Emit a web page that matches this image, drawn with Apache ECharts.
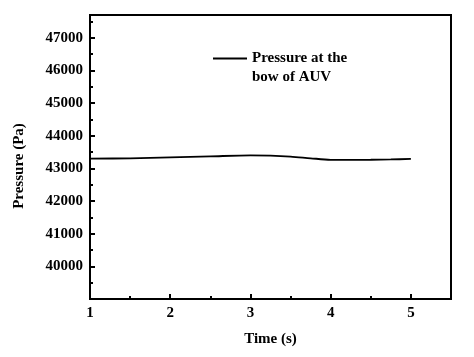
<!DOCTYPE html>
<html>
<head>
<meta charset="utf-8">
<script src="https://cdn.jsdelivr.net/npm/echarts@6/dist/echarts.min.js"></script>
<style>html,body{margin:0;padding:0;background:#fff;}#c{width:474px;height:357px;}</style>
</head>
<body>
<div id="c"></div>
<script>
const times = [1, 1.5, 2, 2.5, 3, 3.25, 3.5, 3.75, 4, 4.25, 4.5, 4.75, 5];
const pressure = [43300, 43310, 43340, 43370, 43400, 43390, 43360, 43310, 43265, 43260, 43265, 43275, 43290];
const seriesName = 'Pressure at the\nbow of AUV';
const xTitle = 'Time (s)';
const yTitle = 'Pressure (Pa)';

const font = 'Liberation Serif';
const chart = echarts.init(document.getElementById('c'), null, {renderer: 'canvas'});
const xMin = 1, xMax = 5.5, yMin = 39000, yMax = 47700;
chart.setOption({
  animation: false,
  backgroundColor: '#fff',
  grid: {left: 90, right: 23, top: 15, bottom: 58, show: true, borderColor: '#000', borderWidth: 2, backgroundColor: 'transparent'},
  legend: {
    left: 213, top: 30, padding: 0,
    icon: 'rect', itemWidth: 34, itemHeight: 2, itemGap: 4,
    data: [{name: seriesName, itemStyle: {color: '#000'}}],
    formatter: name => '\n' + name,
    textStyle: {fontFamily: font, fontWeight: 'bold', fontSize: 15, color: '#000', lineHeight: 19}
  },
  xAxis: [
    {type: 'value', min: xMin, max: xMax, interval: 1,
     name: xTitle, nameLocation: 'middle', nameGap: 33,
     nameTextStyle: {fontFamily: font, fontWeight: 'bold', fontSize: 15, color: '#000'},
     axisLine: {lineStyle: {color: '#000', width: 2}},
     axisTick: {inside: true, length: 5, lineStyle: {color: '#000', width: 2}},
     axisLabel: {fontFamily: font, fontWeight: 'bold', fontSize: 15, color: '#000', margin: 7,
       formatter: v => (Math.abs(v - Math.round(v)) < 1e-9 && v <= 5) ? String(v) : ''},
     splitLine: {show: false}},
    {type: 'value', min: xMin, max: xMax, interval: 0.5, position: 'bottom',
     axisLine: {show: false},
     axisTick: {inside: true, length: 3, lineStyle: {color: '#000', width: 2}},
     axisLabel: {show: false}, splitLine: {show: false}}
  ],
  yAxis: [
    {type: 'value', min: yMin, max: yMax, interval: 1000,
     name: yTitle, nameLocation: 'middle', nameGap: 63, nameRotate: 90,
     nameTextStyle: {fontFamily: font, fontWeight: 'bold', fontSize: 15, color: '#000', padding: [0, 18, 0, 0]},
     axisLine: {lineStyle: {color: '#000', width: 2}},
     axisTick: {inside: true, length: 5, lineStyle: {color: '#000', width: 2}},
     axisLabel: {fontFamily: font, fontWeight: 'bold', fontSize: 15, color: '#000', margin: 7,
       formatter: v => (v % 1000 === 0 && v > yMin) ? String(v) : ''},
     splitLine: {show: false}},
    {type: 'value', min: yMin, max: yMax, interval: 500, position: 'left',
     axisLine: {show: false},
     axisTick: {inside: true, length: 3, lineStyle: {color: '#000', width: 2}},
     axisLabel: {show: false}, splitLine: {show: false}}
  ],
  series: [{
    name: seriesName, type: 'line', xAxisIndex: 0, yAxisIndex: 0,
    data: times.map((t, i) => [t, pressure[i]]),
    showSymbol: false, smooth: 0.3,
    lineStyle: {color: '#000', width: 1.8},
    itemStyle: {color: '#000'}
  }]
});
</script>
</body>
</html>
